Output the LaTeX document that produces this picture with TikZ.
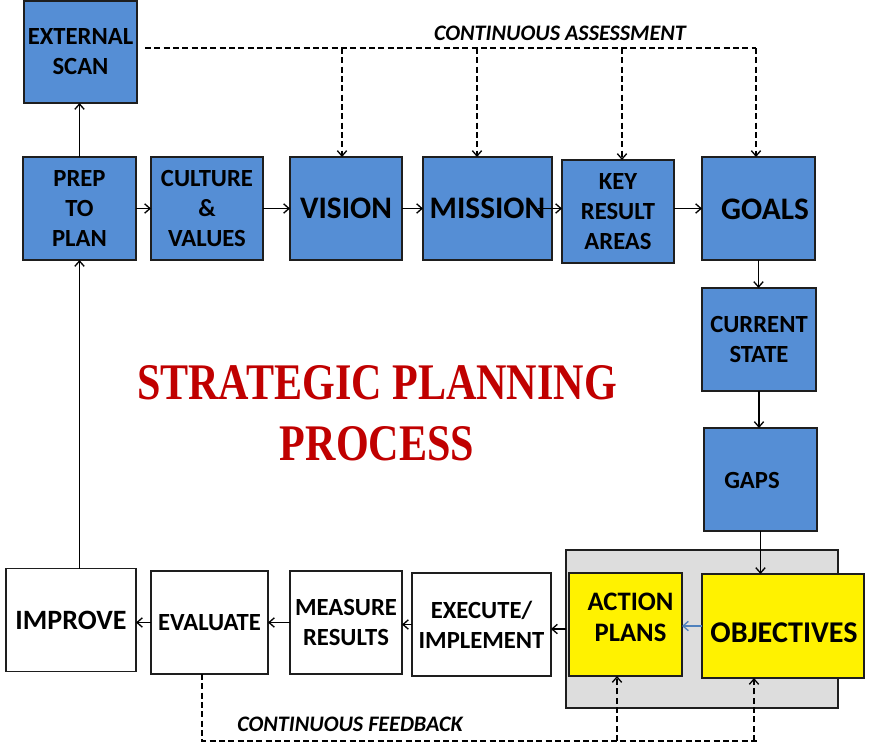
\documentclass[tikz,border=0pt]{standalone}
\usepackage{fontspec}
\setmainfont{Carlito}
\newfontfamily\titlefont{Liberation Serif}
\usetikzlibrary{arrows.meta}
\definecolor{boxblue}{RGB}{85,142,213}
\definecolor{boxline}{RGB}{30,30,30}
\definecolor{grayfill}{RGB}{221,221,221}
\definecolor{titlered}{RGB}{192,0,0}
\definecolor{arrowblue}{RGB}{79,129,189}
\begin{document}
\begin{tikzpicture}[x=0.75pt,y=-0.75pt,
  box/.style={draw=boxline,line width=1.4pt,inner sep=0pt,outer sep=0pt,align=center,
    font=\bfseries\fontsize{18.5}{22.5}\selectfont},
  bluebox/.style={box,fill=boxblue},
  whitebox/.style={box,fill=white},
  yellowbox/.style={box,fill=yellow},
  bigtext/.style={font=\bfseries\fontsize{23.5}{27}\selectfont},
  midtext/.style={font=\bfseries\fontsize{20}{23.75}\selectfont},
  txt/.style={inner sep=0pt,align=center},
  conn/.style={line width=1pt,-{Straight Barb[length=4pt,width=7pt,line width=1pt]}},
  dconn/.style={conn,dash pattern=on 4.5pt off 2.5pt},
  dline/.style={line width=1pt,dash pattern=on 4.5pt off 2.5pt},
  lbl/.style={inner sep=0pt,font=\bfseries\itshape\fontsize{16.6}{19}\selectfont}
]
\useasboundingbox (0,0) rectangle (883,750);

% top row
\node[bluebox,minimum width=84.75pt,minimum height=76.5pt] (ext) at (80.5,52) {EXTERNAL\\SCAN};
\node[bluebox,minimum width=84.75pt,minimum height=77.25pt] (prep) at (79.5,208.5) {PREP\\TO\\PLAN};
\node[bluebox,minimum width=84pt,minimum height=77.25pt] (cult) at (207,208.5) {CULTURE\\\&\\VALUES};
\node[bluebox,bigtext,minimum width=84pt,minimum height=77.25pt] (vis) at (346,208.5) {VISION};
\node[bluebox,bigtext,minimum width=96.75pt,minimum height=77.25pt] (mis) at (487.5,208.5) {MISSION};
\node[bluebox,minimum width=84pt,minimum height=77.25pt] (kra) at (618,211.5) {KEY\\RESULT\\AREAS};
\node[bluebox,minimum width=84.75pt,minimum height=77.25pt] (goals) at (758.5,208.5) {};
\node[txt,bigtext] (goalst) at (765,209) {GOALS};

% right column
\node[bluebox,minimum width=85.5pt,minimum height=77.25pt] (cur) at (759,339.5) {CURRENT\\STATE};
\node[bluebox,minimum width=84.75pt,minimum height=77.25pt] (gaps) at (760.5,479.5) {};
\node[txt,font=\bfseries\fontsize{18.5}{22.5}\selectfont] (gapst) at (752,480) {GAPS};

% grouped box
\node[draw=boxline,line width=1.4pt,fill=grayfill,inner sep=0pt,outer sep=0pt,
  minimum width=204pt,minimum height=118.5pt] (grp) at (702,629) {};
\node[yellowbox,minimum width=84.75pt,minimum height=77.25pt] (ap) at (625.5,624.5) {};
\node[txt,midtext] (apt) at (630.5,617.5) {ACTION\\PLANS};
\node[yellowbox,minimum width=121.5pt,minimum height=78pt] (obj) at (783,626) {};
\node[txt,font=\bfseries\fontsize{22.6}{26}\selectfont] (objt) at (784,633) {OBJECTIVES};

% bottom row
\node[whitebox,minimum width=104.25pt,minimum height=77.25pt] (exe) at (481.5,624.5) {EXECUTE/\\IMPLEMENT};
\node[whitebox,minimum width=84pt,minimum height=77.25pt] (meas) at (346,622.5) {MEASURE\\RESULTS};
\node[whitebox,minimum width=87.75pt,minimum height=77.25pt] (eval) at (209.5,622.5) {EVALUATE};
\node[whitebox,font=\bfseries\fontsize{21}{24}\selectfont,minimum width=97.5pt,minimum height=77.25pt] (imp) at (71,620) {IMPROVE};

% title
\node[txt,text=titlered] (title) at (377,418)
  {\titlefont\bfseries\fontsize{38.5}{46}\selectfont\scalebox{0.82}[1]{\begin{tabular}{@{}c@{}}STRATEGIC PLANNING\\PROCESS\end{tabular}}};

% labels
\node[lbl] (calbl) at (560,33) {CONTINUOUS ASSESSMENT};
\node[lbl] (cflbl) at (350,724) {CONTINUOUS FEEDBACK};

% solid connectors
\draw[conn] (prep.north) -- (prep.north |- ext.south);
\draw[conn] (prep.east) -- (cult.west);
\draw[conn] (cult.east) -- (vis.west);
\draw[conn] (vis.east) -- (mis.west);
\draw[conn] ([xshift=-10.5pt]mis.east) -- (kra.west |- mis.east);
\draw[conn] (kra.east |- goals.west) -- (goals.west);
\draw[conn] (goals.south) -- (goals.south |- cur.north);
\draw[conn] (cur.south) -- (cur.south |- gaps.north);
\draw[conn] (gaps.south) -- (gaps.south |- obj.north);
\draw[conn,draw=arrowblue] (obj.west) -- (ap.east |- obj.west);
\draw[conn] (grp.west) -- (exe.east |- grp.west);
\draw[conn] (exe.west) -- (meas.east |- exe.west);
\draw[conn] (meas.west) -- (eval.east);
\draw[conn] (eval.west) -- (imp.east |- eval.west);
\draw[conn] (prep.south |- imp.north) -- (prep.south);

% continuous assessment
\coordinate (caL) at (145,48);
\coordinate (caR) at (756,48);
\coordinate (d1) at (342,48);
\coordinate (d2) at (477,48);
\coordinate (d3) at (622,48);
\draw[dline] (caL) -- (caR);
\draw[dconn] (d1) -- (d1 |- vis.north);
\draw[dconn] (d2) -- (d2 |- mis.north);
\draw[dconn] (d3) -- (d3 |- kra.north);
\draw[dconn] (caR) -- (caR |- goals.north);

% continuous feedback
\coordinate (fb1) at (202,741);
\coordinate (fb2) at (758,741);
\coordinate (fa) at (617,741);
\coordinate (fo) at (754,741);
\draw[dline] (fb1 |- eval.south) -- (fb1) -- (fb2);
\draw[dconn] (fa) -- (fa |- ap.south);
\draw[dconn] (fo) -- (fo |- obj.south);
\end{tikzpicture}
\end{document}
